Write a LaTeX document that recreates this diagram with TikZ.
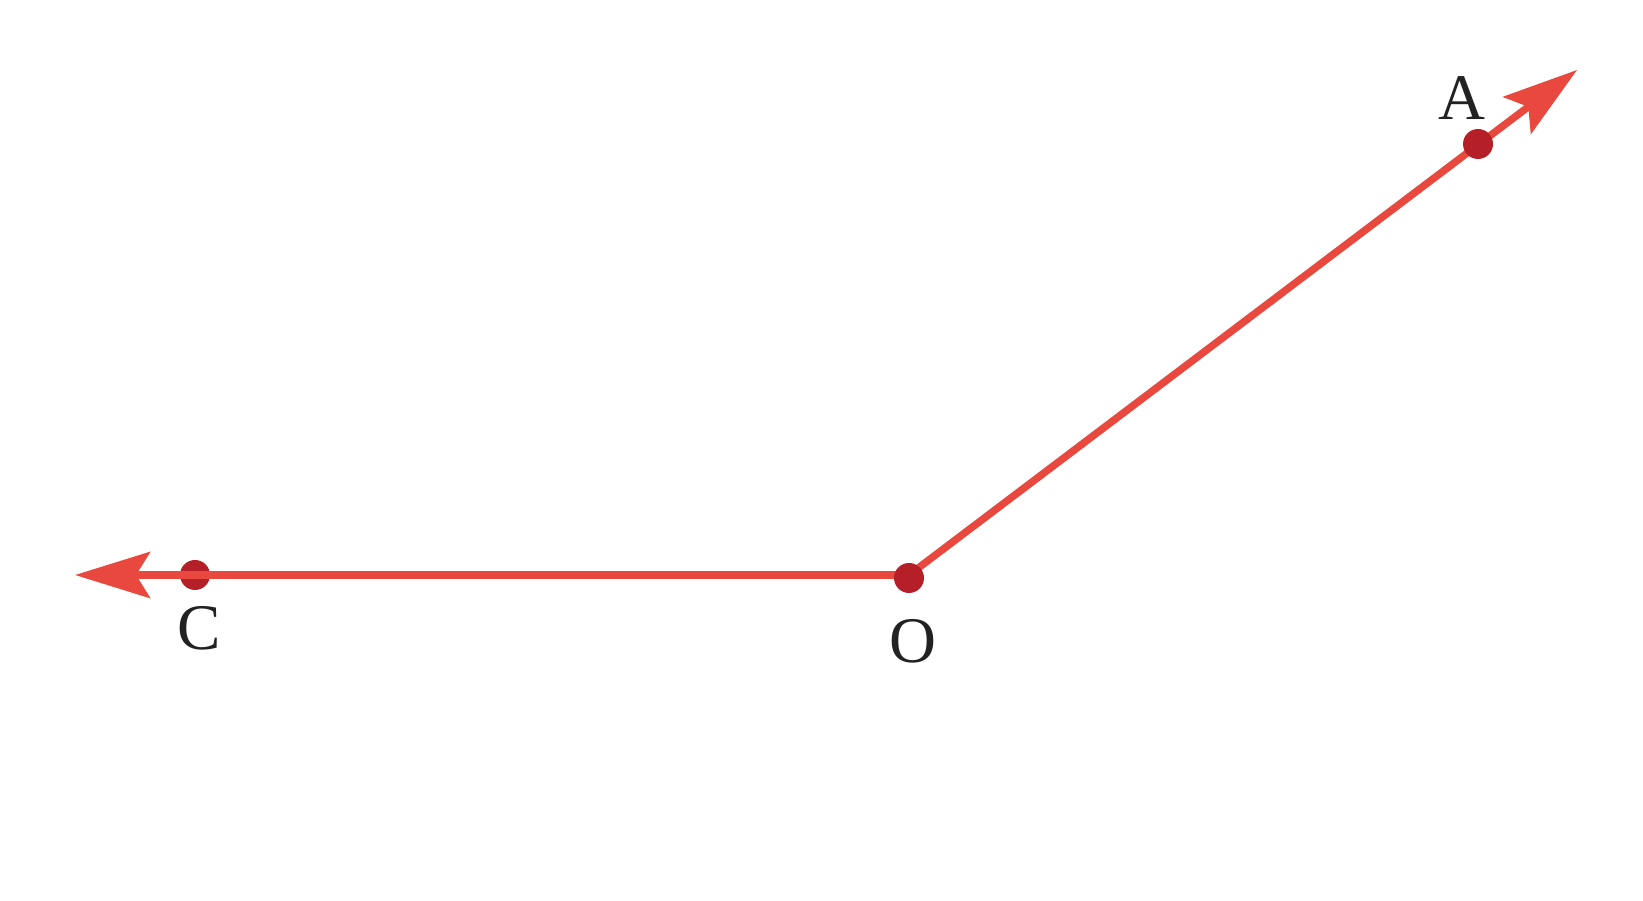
\documentclass[tikz,border=0pt]{standalone}
\usepackage{fontspec}
\setmainfont{Liberation Serif}
\usetikzlibrary{arrows.meta}
\definecolor{rayred}{HTML}{E8483D}
\definecolor{dotred}{HTML}{B51F27}
\definecolor{labelgray}{HTML}{222222}
\tikzset{
  ray/.style={draw=rayred, line width=2.1pt, -{Stealth[length=7.5mm, width=4.6mm, inset=1.4mm]}},
  pt/.style={circle, fill=dotred, inner sep=0pt, minimum size=3mm},
  lbl/.style={text=labelgray, font=\fontsize{18.5}{22}\selectfont}
}
\begin{document}
\begin{tikzpicture}
    \useasboundingbox (0,0) rectangle (16.43,9.01);

    \node[pt] (C) at (1.95,3.26) {};
    \coordinate (O) at (9.09,3.26);
    \coordinate (A) at (14.78,7.57);
    \coordinate (Cend) at (0.75,3.26);
    \coordinate (Aend) at (15.77,8.31);

    \draw[ray] (O) -- (Cend);
    \draw[ray] (O) -- (Aend);

    \node[pt] (Odot) at (9.09,3.23) {};
    \node[pt] (Adot) at (A) {};

    \node[lbl] (lC) at (1.99,2.73) {C};
    \node[lbl] (lO) at (9.13,2.60) {O};
    \node[lbl] (lA) at (14.62,8.03) {A};
  \end{tikzpicture}
\end{document}
